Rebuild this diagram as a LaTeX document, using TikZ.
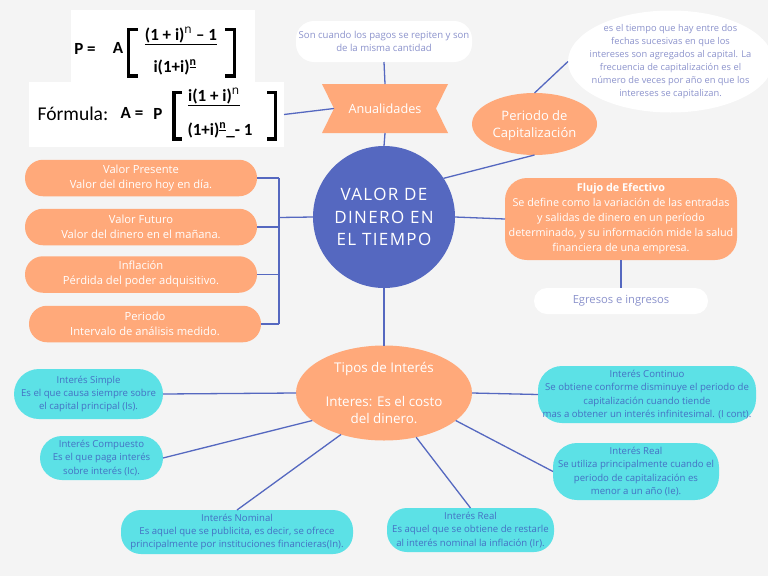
\documentclass[tikz,border=0pt]{standalone}
\usepackage{fontspec}
\setmainfont{Open Sans}
\newfontfamily\formulafont{Carlito}
\newfontfamily\centrofont[LetterSpace=8]{Open Sans}
\usetikzlibrary{shapes.geometric}
\definecolor{fondo}{HTML}{F4F4F4}
\definecolor{naranja}{HTML}{FFA97A}
\definecolor{turquesa}{HTML}{5CE1E6}
\definecolor{azul}{HTML}{5568C0}
\definecolor{lila}{HTML}{8C93CC}
\definecolor{azultxt}{HTML}{4470C4}

\begin{document}
\begin{tikzpicture}[
            x=1pt,y=-1pt,
            caja/.style={rectangle,rounded corners=18pt,align=center,inner sep=0pt,outer sep=0pt},
            concepto/.style={caja,fill=naranja,text=white,minimum width=232pt,minimum height=36.5pt,font=\fontsize{11.2}{15}\selectfont},
            nota/.style={caja,fill=white,text=lila,font=\fontsize{9.6}{13}\selectfont},
            interes/.style={caja,fill=turquesa,text=azultxt,font=\fontsize{9.6}{13.3}\selectfont},
            globo/.style={ellipse,inner sep=0pt,outer sep=0pt,align=center},
            hoja/.style={rectangle,fill=white,inner sep=0pt,outer sep=0pt},
            formula/.style={inner sep=0pt,font=\formulafont\bfseries\fontsize{17}{19}\selectfont},
            corchete/.style={line width=3.5pt,line join=miter},
            link/.style={draw=azul,line width=1.3pt}
          ]
          \useasboundingbox (0,0) rectangle (768,576);
          \fill[fondo] (0,0) rectangle (768,576);

          %formulas
          \node[hoja,minimum width=184pt,minimum height=72pt] (fp) at (163,46) {};
          \node[hoja,minimum width=255pt,minimum height=65pt] (fa) at (156.5,114.5) {};
          \node[formula] (p1) at (85,49) {P =};
          \node[formula] (a1) at (118,47.5) {A};
          \node[formula] (n1) at (181,36) {\underline{(1 + i)$^{\mathrm{n}}$ – 1}};
          \node[formula] (d1) at (175,67) {i(1+i)\textsuperscript{\underline{n}}};
          \draw[corchete] (138,29.5) -- (128.5,29.5) -- (128.5,76) -- (138,76);
          \draw[corchete] (225,29.5) -- (234.5,29.5) -- (234.5,76) -- (225,76);
          \node[formula,font=\formulafont\fontsize{19.5}{21}\selectfont] (lab) at (73,114) {Fórmula:};
          \node[formula] (a2) at (132,113) {A =};
          \node[formula] (p2) at (158,113.5) {P};
          \node[formula] (n2) at (214,97) {\underline{i(1 + i)$^{\mathrm{n}}$}};
          \node[formula] (d2) at (220,130) {(1+i)\textsuperscript{\underline{n}}\_- 1};
          \draw[corchete] (182,92.5) -- (174,92.5) -- (174,139) -- (182,139);
          \draw[corchete] (267,92.5) -- (275.5,92.5) -- (275.5,139) -- (267,139);

          %centro
          \node[circle,fill=azul,text=white,minimum size=142pt,inner sep=0pt,outer sep=0pt,align=center,font=\centrofont\fontsize{17}{22.5}\selectfont] (centro) at (384,217) {VALOR DE\\DINERO EN\\EL TIEMPO};

          %anualidades
          \fill[naranja] (322,84) -- (448,84) -- (436,108.5) -- (448,133) -- (322,133) -- (334,108.5) -- cycle;
          \node[text=white,minimum width=102pt,minimum height=49pt,inner sep=0pt,outer sep=0pt,font=\fontsize{12.7}{15}\selectfont] (anu) at (385,108.5) {Anualidades};
          \node[nota,minimum width=176pt,minimum height=41pt] (son) at (384,41.5) {Son cuando los pagos se repiten y son\\de la misma cantidad};

          %periodo de capitalizacion
          \node[globo,fill=naranja,text=white,minimum width=125pt,minimum height=62pt,inner xsep=-8pt,inner ysep=-4pt,font=\fontsize{13}{17}\selectfont] (cap) at (534.5,124) {\\[-3pt]Periodo de\\Capitalización};
          \node[globo,fill=white,text=lila,minimum width=205pt,minimum height=102pt,inner xsep=-14pt,inner ysep=-5pt,font=\fontsize{9.3}{13}\selectfont] (tiempo) at (670.5,61.5) {es el tiempo que hay entre dos\\fechas sucesivas en que los\\intereses son agregados al capital. La\\frecuencia de capitalización es el\\número de veces por año en que los\\intereses se capitalizan.};

          %flujo
          \node[concepto,rounded corners=22pt,minimum height=82pt,font=\fontsize{10.8}{15}\selectfont] (flujo) at (621,219) {\textbf{Flujo de Efectivo}\\Se define como la variación de las entradas\\y salidas de dinero en un período\\determinado, y su información mide la salud\\financiera de una empresa.};
          \node[nota,rounded corners=13pt,minimum width=174pt,minimum height=26pt,font=\fontsize{11.2}{13}\selectfont] (egr) at (621,301) {Egresos e ingresos};

          %conceptos
          \node[concepto] (vp) at (141,178) {Valor Presente\\Valor del dinero hoy en día.};
          \node[concepto] (vf) at (141,227) {Valor Futuro\\Valor del dinero en el mañana.};
          \node[concepto] (inf) at (141,274.5) {Inflación\\Pérdida del poder adquisitivo.};
          \node[concepto] (per) at (145,324) {Periodo\\Intervalo de análisis medido.};
          \coordinate (llave) at (279,217.5);

          %tipos de interes
          \node[globo,fill=naranja,text=white,minimum width=176pt,minimum height=95pt,inner xsep=-6pt,inner ysep=-4pt,font=\fontsize{13.4}{17}\selectfont] (tipos) at (384,393) {Tipos de Interés\\[17pt]Interes: Es el costo\\del dinero.};
          \node[interes,rounded corners=25pt,minimum width=149pt,minimum height=50pt] (is) at (88.5,394) {Interés Simple\\Es el que causa siempre sobre\\el capital principal (Is).};
          \node[interes,rounded corners=22pt,minimum width=123pt,minimum height=44pt] (ic) at (101.5,458) {Interés Compuesto\\Es el que paga interés\\sobre interés (Ic).};
          \node[interes,rounded corners=20pt,minimum width=232pt,minimum height=44pt] (in) at (237,532) {Interés Nominal\\Es aquel que se publicita, es decir, se ofrece\\principalmente por instituciones financieras(In).};
          \node[interes,rounded corners=20pt,minimum width=167pt,minimum height=44pt] (ir) at (470.5,530) {Interés Real\\Es aquel que se obtiene de restarle\\al interés nominal la inflación (Ir).};
          \node[interes,rounded corners=24pt,minimum width=218pt,minimum height=57pt] (icont) at (647,394.5) {Interés Continuo\\Se obtiene conforme disminuye el periodo de\\capitalización cuando tiende\\mas a obtener un interés infinitesimal. (I cont).};
          \node[interes,rounded corners=24pt,minimum width=166pt,minimum height=57pt] (ie) at (636,471.5) {Interés Real\\Se utiliza principalmente cuando el\\periodo de capitalización es\\menor a un año (Ie).};

          %lineas
          \draw[link] (son.south) -- (anu.north);
          \draw[link] (anu.south) -- (centro.north);
          \draw[link] (fa.east) -- (anu.west);
          \draw[link] (centro.33) -- (cap.south);
          \draw[link] (cap.north) -- (tiempo.west);
          \draw[link] (centro.east) -- (flujo.west);
          \draw[link] (flujo.south) -- (egr.north);
          \draw[link] (vp.east) -- (vp.east -| llave);
          \draw[link] (vf.east) -- (vf.east -| llave);
          \draw[link] (inf.east) -- (inf.east -| llave);
          \draw[link] (per.east) -- (per.east -| llave);
          \draw[link] (vp.east -| llave) -- (per.east -| llave);
          \draw[link] (llave) -- (centro.west);
          \draw[link] (centro.south) -- (tipos.north);
          \draw[link] (is.east) -- (tipos.west);
          \draw[link] (ic.east) -- (tipos.201);
          \draw[link] (in.north) -- (tipos.224);
          \draw[link] (ir.north) -- (tipos.-54);
          \draw[link] (ie.west) -- (tipos.-21);
          \draw[link] (icont.west) -- (tipos.east);
      \end{tikzpicture}
\end{document}
